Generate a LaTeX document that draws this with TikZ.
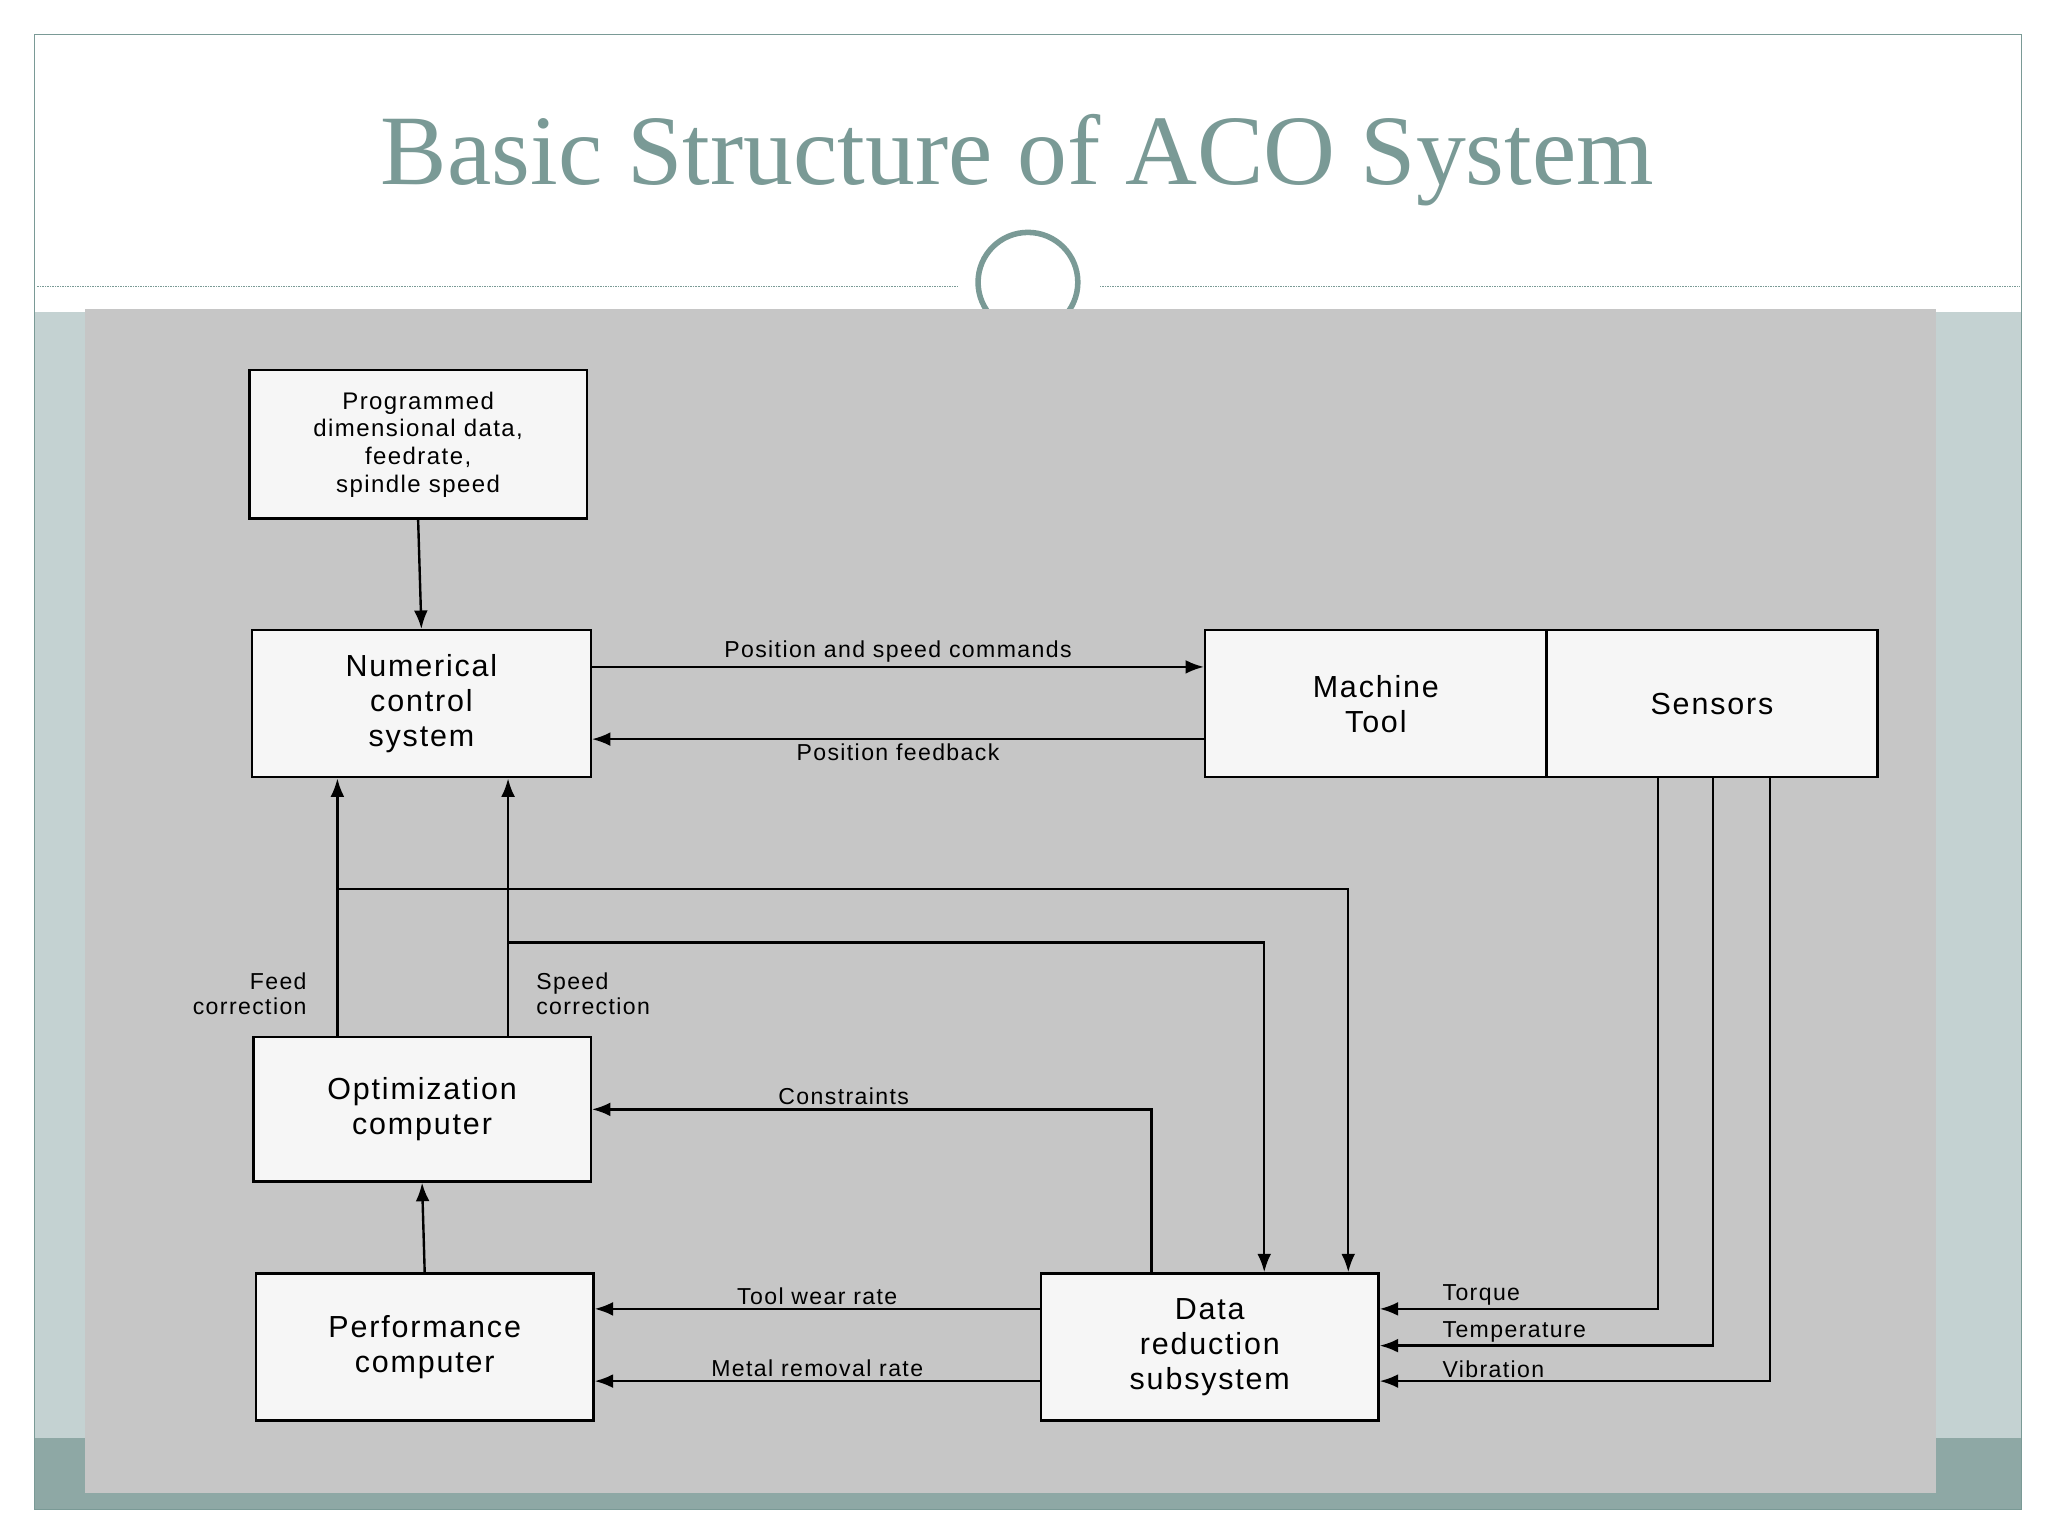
\documentclass[tikz,border=0pt]{standalone}
\usepackage{fontspec}
\setmainfont{Liberation Sans}[LetterSpace=6]
\newfontfamily\titlefont{Liberation Serif}
\usetikzlibrary{arrows.meta}
\definecolor{tgreen}{HTML}{7A9A96}
\definecolor{band}{HTML}{C4D2D2}
\definecolor{dband}{HTML}{8EA8A5}
\definecolor{panel}{HTML}{C6C6C6}
\begin{document}
\begin{tikzpicture}[x=0.05cm,y=-0.05cm,
  box/.style={draw=black,line width=2.6pt,fill=white!85!panel,align=center,font=\fontsize{33}{38}\selectfont},
  sbox/.style={box,font=\fontsize{26}{30}\selectfont},
  lab/.style={font=\fontsize{25}{28}\selectfont},
  ar/.style={line width=2.6pt,-{Latex[length=20pt,width=15pt]}},
  ln/.style={line width=2.6pt}]
\useasboundingbox (0,0) rectangle (1560,1170);
\fill[white] (0,0) rectangle (1560,1170);
\fill[band] (26,238) rectangle (1540,1095);
\fill[dband] (26,1095) rectangle (1540,1150);
\draw[tgreen,line width=0.8pt] (26,26) rectangle (1540,1150);
\draw[tgreen,densely dotted,line width=0.8pt] (28,218) -- (730,218) (838,218) -- (1538,218);
\draw[tgreen,line width=6pt] (783,215) circle (38);
\node[text=tgreen,font=\titlefont\fontsize{108}{120}\selectfont] (title) at (775,122) {Basic Structure of ACO System};
\fill[panel] (65,235) rectangle (1475,1137);
% boxes
\node[sbox,minimum width=257*0.05cm,minimum height=113*0.05cm] (prog) at (318.5,338.5) {Programmed\\dimensional data,\\feedrate,\\spindle speed};
\node[box,minimum width=258*0.05cm,minimum height=112*0.05cm] (nc) at (321,536) {Numerical\\control\\system};
\node[box,minimum width=260*0.05cm,minimum height=112*0.05cm] (mt) at (1048,536) {Machine\\Tool};
\node[box,minimum width=252*0.05cm,minimum height=112*0.05cm] (sen) at (1304,536) {Sensors};
\node[box,minimum width=257*0.05cm,minimum height=110*0.05cm] (opt) at (321.5,845) {Optimization\\computer};
\node[box,minimum width=257*0.05cm,minimum height=112*0.05cm] (perf) at (323.5,1026) {Performance\\computer};
\node[box,minimum width=257*0.05cm,minimum height=112*0.05cm] (data) at (921.5,1026) {Data\\reduction\\subsystem};
% arrows
\draw[ar] (prog.south) -- (nc.north);
\draw[ar] (nc.east |- 0,508) -- node[lab,above]{Position and speed commands} (mt.west |- 0,508);
\draw[ar] (mt.west |- 0,563) -- node[lab,below]{Position feedback} (nc.east |- 0,563);
\draw[ar] (opt.north -| 257,0) -- (nc.south -| 257,0);
\draw[ar] (opt.north -| 387,0) -- (nc.south -| 387,0);
\coordinate (f1) at (257,677); \coordinate (f2) at (1027,677);
\coordinate (s1) at (387,718); \coordinate (s2) at (963,718);
\draw[ar] (f1) -- (f2) -- (data.north -| f2);
\draw[ar] (s1) -- (s2) -- (data.north -| s2);
\node[lab,align=right,anchor=east] (fl) at (236,757) {Feed\\correction};
\node[lab,align=left,anchor=west] (sl) at (406,757) {Speed\\correction};
\coordinate (c1) at (877,845);
\draw[ar] (data.north -| c1) -- (c1) -- node[lab,above,pos=0.55]{Constraints} (opt.east |- c1);
\draw[ar] (perf.north) -- (opt.south);
\draw[ar] (data.west |- 0,997) -- node[lab,above]{Tool wear rate} (perf.east |- 0,997);
\draw[ar] (data.west |- 0,1052) -- node[lab,above]{Metal removal rate} (perf.east |- 0,1052);
\coordinate (t1) at (1263,997); \coordinate (t2) at (1305,1025); \coordinate (t3) at (1348,1052);
\draw[ar] (sen.south -| t1) -- (t1) -- (data.east |- t1);
\draw[ar] (sen.south -| t2) -- (t2) -- (data.east |- t2);
\draw[ar] (sen.south -| t3) -- (t3) -- (data.east |- t3);
\node[lab,anchor=south west,inner sep=1pt] (tq) at (1098,995) {Torque};
\node[lab,anchor=south west,inner sep=1pt] (tp) at (1098,1023) {Temperature};
\node[lab,anchor=south west,inner sep=1pt] (vb) at (1098,1050) {Vibration};
\end{tikzpicture}
\end{document}
